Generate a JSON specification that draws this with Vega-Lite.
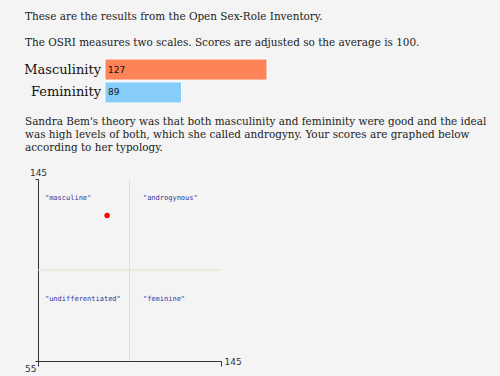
{
  "$schema": "https://vega.github.io/schema/vega-lite/v6.json",
  "background": "#f4f4f4",
  "padding": {"left": 24, "top": 10, "right": 24, "bottom": 4},
  "config": {"view": {"stroke": null}, "font": "DejaVu Serif"},
  "spacing": 11,
  "vconcat": [
    {
      "width": 270,
      "height": 44,
      "title": {
        "text": ["These are the results from the Open Sex-Role Inventory.", "The OSRI measures two scales. Scores are adjusted so the average is 100."],
        "anchor": "start",
        "frame": "group",
        "dx": -13,
        "font": "DejaVu Serif Condensed, DejaVu Serif",
        "fontSize": 11.6,
        "fontWeight": "normal",
        "lineHeight": 26,
        "color": "#222222",
        "offset": 10
      },
      "data": {"values": [
        {"scale": "Masculinity", "score": 127},
        {"scale": "Femininity", "score": 89}
      ]},
      "encoding": {
        "y": {"field": "scale", "type": "nominal", "sort": null, "axis": null, "scale": {"paddingInner": 0.08, "paddingOuter": 0}}
      },
      "layer": [
        {
          "mark": {"type": "bar", "stroke": "#fbfbfb", "strokeWidth": 1},
          "encoding": {
            "x": {"field": "score", "type": "quantitative", "scale": {"domain": [55, 145], "nice": false, "zero": false, "range": [67, 269.5]}, "axis": null},
            "x2": {"datum": 55},
            "color": {"field": "scale", "type": "nominal", "scale": {"domain": ["Masculinity", "Femininity"], "range": ["#ff8359", "#87cdf9"]}, "legend": null}
          }
        },
        {
          "mark": {"type": "text", "align": "right", "dx": -4, "fontSize": 13, "font": "DejaVu Serif", "color": "#111111"},
          "encoding": {"x": {"datum": 55, "type": "quantitative"}, "text": {"field": "scale"}}
        },
        {
          "mark": {"type": "text", "align": "left", "dx": 3, "fontSize": 9, "font": "DejaVu Sans", "color": "#111111"},
          "encoding": {"x": {"datum": 55, "type": "quantitative"}, "text": {"field": "score"}}
        }
      ]
    },
    {
      "width": 183,
      "height": 182,
      "title": {
        "text": ["Sandra Bem's theory was that both masculinity and femininity were good and the ideal", "was high levels of both, which she called androgyny. Your scores are graphed below", "according to her typology."],
        "anchor": "start",
        "frame": "group",
        "dx": -13,
        "font": "DejaVu Serif Condensed, DejaVu Serif",
        "fontSize": 11.6,
        "fontWeight": "normal",
        "lineHeight": 13.3,
        "color": "#222222",
        "offset": 14
      },
      "encoding": {
        "x": {
          "field": "fem", "type": "quantitative",
          "scale": {"domain": [55, 145], "nice": false, "zero": false},
          "axis": {
            "values": [55, 145], "title": null, "grid": false,
            "domainColor": "#333333", "tickColor": "#333333", "tickSize": 5,
            "labelFont": "DejaVu Sans", "labelFontSize": 9, "labelColor": "#333333",
            "labelAlign": {"condition": {"test": "datum.value == 55", "value": "right"}, "value": "left"},
            "labelBaseline": {"condition": {"test": "datum.value == 55", "value": "top"}, "value": "middle"},
            "labelPadding": {"condition": {"test": "datum.value == 55", "value": -2}, "value": -5},
            "labelOffset": {"condition": {"test": "datum.value == 55", "value": -2}, "value": 3}
          }
        },
        "y": {
          "field": "masc", "type": "quantitative",
          "scale": {"domain": [55, 145], "nice": false, "zero": false},
          "axis": {
            "values": [55, 145], "title": null, "grid": false,
            "domainColor": "#333333", "tickColor": "#333333", "tickSize": 3,
            "labelFont": "DejaVu Sans", "labelFontSize": 9, "labelColor": "#333333",
            "labelExpr": "datum.value == 55 ? '' : datum.label",
            "labelAlign": "center", "labelBaseline": "bottom",
            "labelPadding": -3, "labelOffset": -2
          }
        }
      },
      "layer": [
        {
          "data": {"values": [{"mid": 100}]},
          "mark": {"type": "rule", "color": "#e2e2c6", "strokeWidth": 1},
          "encoding": {"x": {"field": "mid", "type": "quantitative"}, "y": null}
        },
        {
          "data": {"values": [{"mid": 100}]},
          "mark": {"type": "rule", "color": "#e2e2c6", "strokeWidth": 1},
          "encoding": {"y": {"field": "mid", "type": "quantitative"}, "x": null}
        },
        {
          "data": {"values": [
            {"label": "\"masculine\"", "fem": 58.4, "masc": 135.6},
            {"label": "\"androgynous\"", "fem": 106.6, "masc": 135.6},
            {"label": "\"undifferentiated\"", "fem": 58.4, "masc": 85.7},
            {"label": "\"feminine\"", "fem": 106.6, "masc": 85.7}
          ]},
          "mark": {"type": "text", "align": "left", "baseline": "middle", "font": "DejaVu Sans Mono", "fontSize": 7, "color": "#33339a"},
          "encoding": {"text": {"field": "label"}}
        },
        {
          "data": {"values": [{"fem": 89, "masc": 127}]},
          "mark": {"type": "circle", "color": "#ff0000", "size": 30, "opacity": 1}
        }
      ]
    }
  ]
}
